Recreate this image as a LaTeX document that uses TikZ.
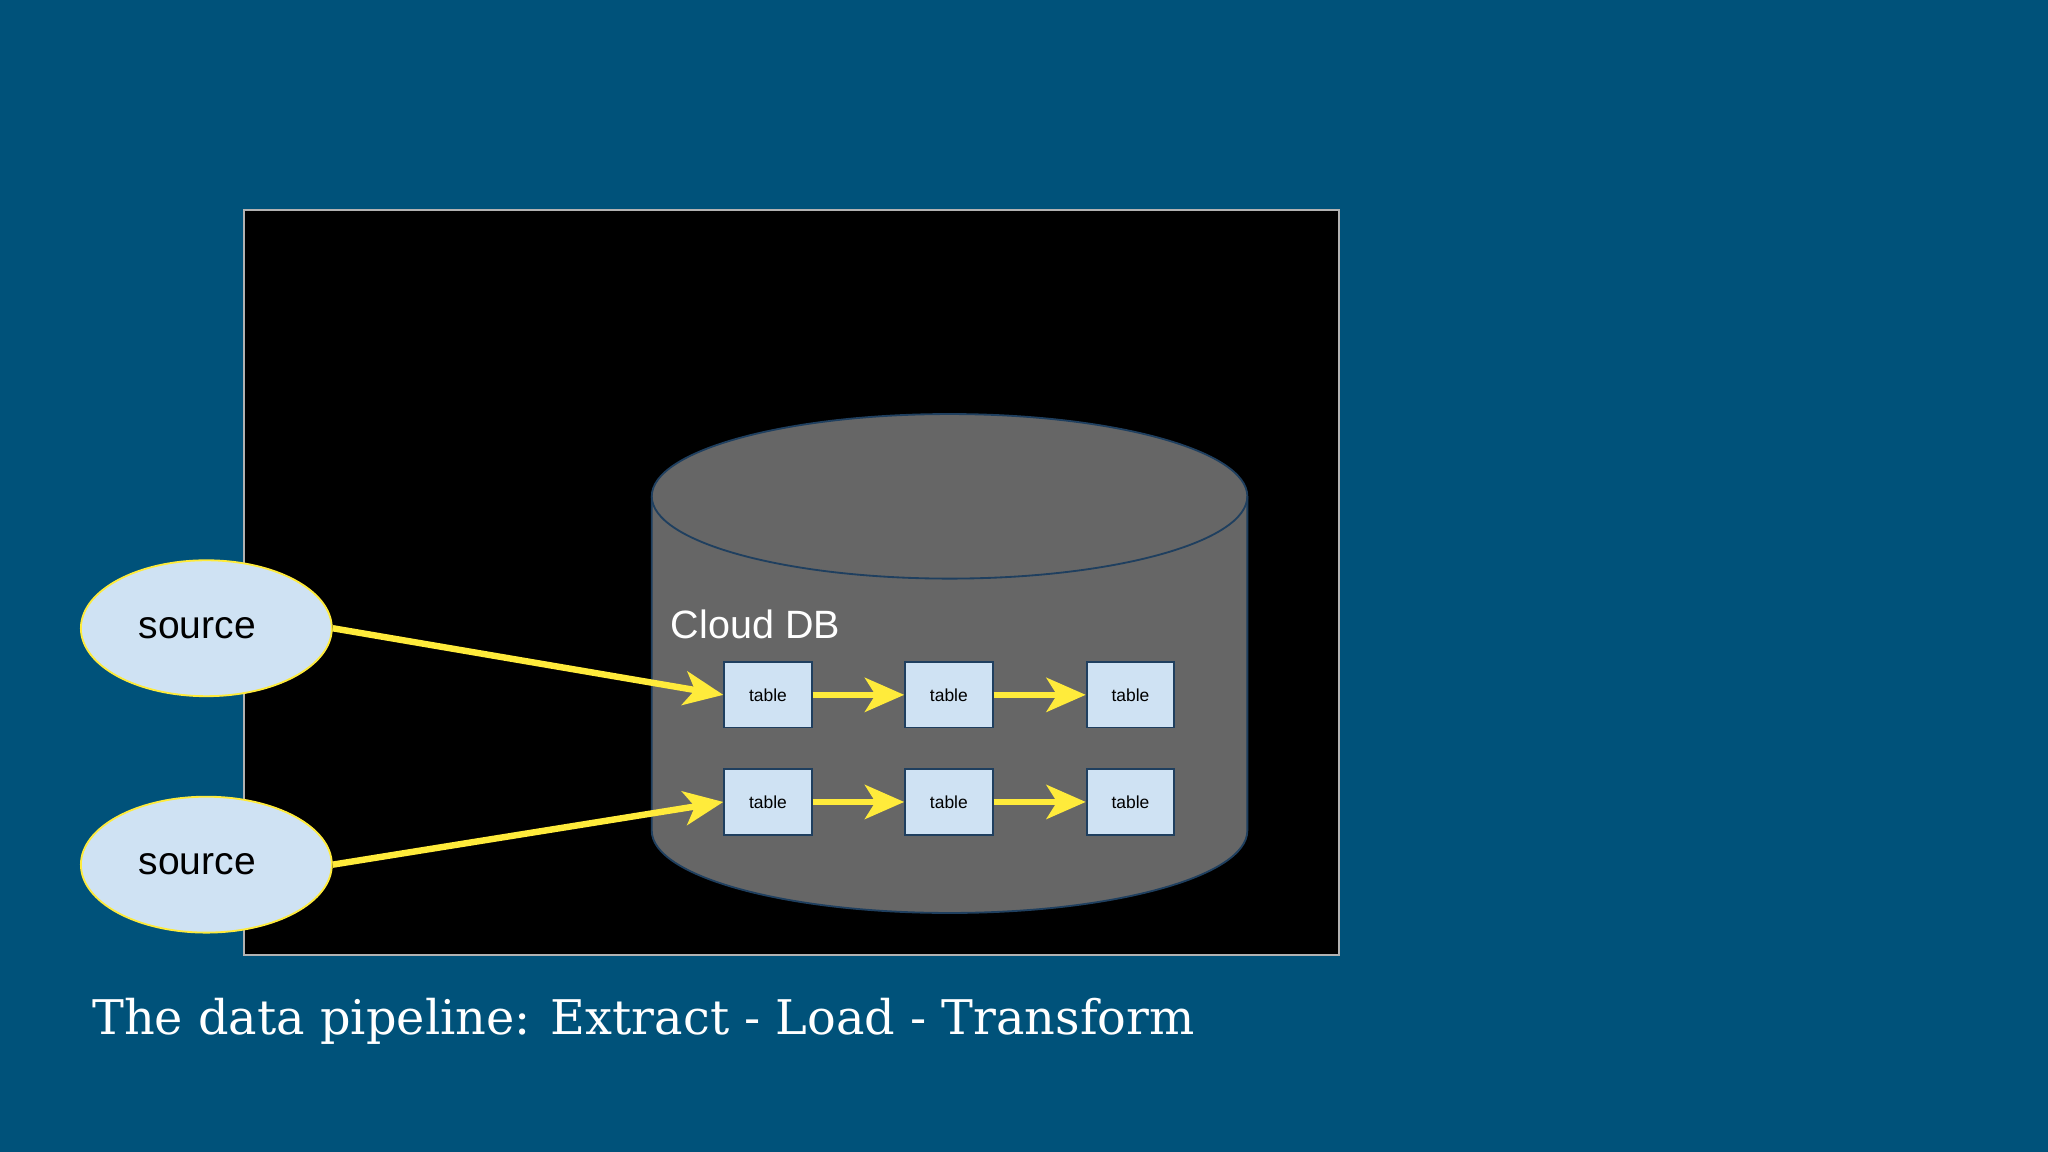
\documentclass[tikz,border=0pt]{standalone}
\usepackage{fontspec}
\setmainfont{Liberation Sans}
\newfontfamily\capfont{DejaVu Serif}
\usetikzlibrary{arrows.meta,shapes.geometric}
\definecolor{bg}{HTML}{00527A}
\definecolor{lb}{HTML}{CFE2F3}
\definecolor{yel}{HTML}{FFEB3B}
\definecolor{cylb}{HTML}{1F3F5F}
\tikzset{
 tbl/.style={draw=cylb,fill=lb,minimum width=0.67cm,minimum height=0.5cm,inner sep=0,font=\fontsize{3.8}{5}\selectfont},
 src/.style={ellipse,draw=yel,fill=lb,minimum width=1.92cm,minimum height=1.04cm,inner sep=0,font=\fontsize{8.5}{10}\selectfont},
 flow/.style={draw=yel,line width=1.4pt,-{Stealth[length=0.3cm,width=0.26cm,inset=0.08cm]}}
}
\begin{document}
\begin{tikzpicture}[x=0.01cm,y=-0.01cm]
\fill[bg] (0,0) rectangle (1568,882);
\useasboundingbox (0,0) rectangle (1568,882);
\draw[fill=black,draw=gray!60] (187,161) rectangle (1025,731);
% cylinder
\filldraw[fill=black!60,draw=cylb] (499,380) -- (499,636) arc[start angle=180,end angle=0,x radius=228,y radius=63] -- (955,380) arc[start angle=0,end angle=-180,x radius=228,y radius=63] -- cycle;
\draw[cylb] (499,380) arc[start angle=180,end angle=0,x radius=228,y radius=63];
\node[anchor=west,text=white,font=\fontsize{8.6}{11}\selectfont,inner sep=0] (db) at (513,478) {Cloud DB};
\foreach \r/\y in {a/532,b/614}{
 \node[tbl] (\r1) at (588,\y) {table};
 \node[tbl] (\r2) at (726.5,\y) {table};
 \node[tbl] (\r3) at (865.5,\y) {table};
 \draw[flow] (\r1) -- (\r2);
 \draw[flow] (\r2) -- (\r3);
}
\node[src] (s1) at (158,481) {\hspace*{-0.14cm}source};
\node[src] (s2) at (158,662) {\hspace*{-0.14cm}source};
\draw[flow] (s1.east) -- (a1.west);
\draw[flow] (s2.east) -- (b1.west);
\node[anchor=base west,inner sep=0,text=white,font=\capfont\fontsize{10.4}{13}\selectfont] (cap) at (70,792) {The data pipeline: Extract - Load - Transform};
\end{tikzpicture}
\end{document}
